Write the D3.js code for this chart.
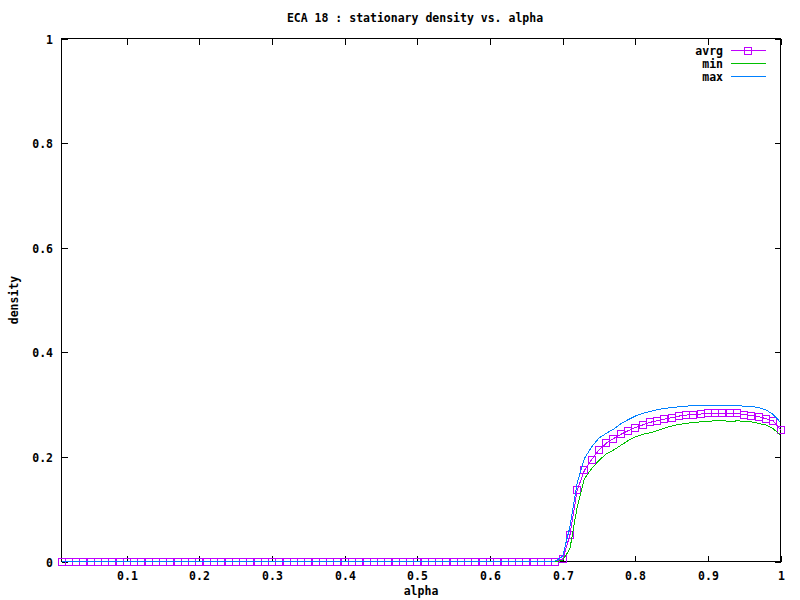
<!DOCTYPE html>
<html lang="en">
<head>
  <meta charset="UTF-8">
  <title>ECA 18 : stationary density vs. alpha</title>
  <script src="https://d3js.org/d3.v7.min.js"></script>
  <style>
    body { margin: 0; background: #fff; }
    svg text {
      font-family: "DejaVu Sans Mono", monospace;
      font-weight: bold;
      font-size: 11.5px;
      fill: #000;
    }
  </style>
</head>
<body>
  <div id="chart"></div>

  <script>
    // alpha values, 0.01 .. 1.00
    const alpha = [
      0.01,0.02,0.03,0.04,0.05,0.06,0.07,0.08,0.09,0.10,
      0.11,0.12,0.13,0.14,0.15,0.16,0.17,0.18,0.19,0.20,
      0.21,0.22,0.23,0.24,0.25,0.26,0.27,0.28,0.29,0.30,
      0.31,0.32,0.33,0.34,0.35,0.36,0.37,0.38,0.39,0.40,
      0.41,0.42,0.43,0.44,0.45,0.46,0.47,0.48,0.49,0.50,
      0.51,0.52,0.53,0.54,0.55,0.56,0.57,0.58,0.59,0.60,
      0.61,0.62,0.63,0.64,0.65,0.66,0.67,0.68,0.69,0.70,
      0.71,0.72,0.73,0.74,0.75,0.76,0.77,0.78,0.79,0.80,
      0.81,0.82,0.83,0.84,0.85,0.86,0.87,0.88,0.89,0.90,
      0.91,0.92,0.93,0.94,0.95,0.96,0.97,0.98,0.99,1.00
    ];

    const avrg = [
      0,0,0,0,0,0,0,0,0,0,
      0,0,0,0,0,0,0,0,0,0,
      0,0,0,0,0,0,0,0,0,0,
      0,0,0,0,0,0,0,0,0,0,
      0,0,0,0,0,0,0,0,0,0,
      0,0,0,0,0,0,0,0,0,0,
      0,0,0,0,0,0,0,0,0,0.004,
      0.050,0.136,0.174,0.195,0.213,0.226,0.235,0.243,0.250,0.256,
      0.261,0.266,0.269,0.272,0.275,0.278,0.280,0.281,0.282,0.283,
      0.283,0.283,0.283,0.283,0.281,0.279,0.277,0.273,0.269,0.252
    ];

    const minv = [
      0,0,0,0,0,0,0,0,0,0,
      0,0,0,0,0,0,0,0,0,0,
      0,0,0,0,0,0,0,0,0,0,
      0,0,0,0,0,0,0,0,0,0,
      0,0,0,0,0,0,0,0,0,0,
      0,0,0,0,0,0,0,0,0,0,
      0,0,0,0,0,0,0,0,0,0.002,
      0.024,0.104,0.158,0.178,0.193,0.206,0.213,0.222,0.231,0.238,
      0.243,0.246,0.250,0.255,0.259,0.262,0.264,0.266,0.267,0.268,
      0.269,0.270,0.267,0.269,0.268,0.267,0.264,0.261,0.254,0.241
    ];

    const maxv = [
      0,0,0,0,0,0,0,0,0,0,
      0,0,0,0,0,0,0,0,0,0,
      0,0,0,0,0,0,0,0,0,0,
      0,0,0,0,0,0,0,0,0,0,
      0,0,0,0,0,0,0,0,0,0,
      0,0,0,0,0,0,0,0,0,0,
      0,0,0,0,0,0,0,0,0.001,0.010,
      0.066,0.150,0.197,0.219,0.236,0.245,0.253,0.263,0.271,0.278,
      0.283,0.287,0.290,0.293,0.294,0.296,0.297,0.298,0.298,0.298,
      0.299,0.299,0.298,0.298,0.297,0.297,0.294,0.290,0.281,0.266
    ];

    const xTicks = [0.1, 0.2, 0.3, 0.4, 0.5, 0.6, 0.7, 0.8, 0.9, 1];
    const yTicks = [0, 0.2, 0.4, 0.6, 0.8, 1];

    const series = [
      { name: "avrg", values: avrg, color: "#c000ff", points: true },
      { name: "min", values: minv, color: "#00c000", points: false },
      { name: "max", values: maxv, color: "#0080ff", points: false }
    ];

    const width = 800, height = 600;
    const pLeft = 61.5, pRight = 780.5, pTop = 38.5, pBottom = 561.5;

    const x = d3.scaleLinear().domain([0.01, 1]).range([pLeft, pRight]);
    const y = d3.scaleLinear().domain([0, 1]).range([pBottom, pTop]);

    const svg = d3.select("#chart").append("svg")
      .attr("width", width).attr("height", height);

    const fmt = d => d === 0 || d === 1 ? String(d) : d.toFixed(1);
    const tick = 6;

    // ticks (inward, mirrored)
    const grid = svg.append("g").attr("stroke", "#000").attr("shape-rendering", "crispEdges");
    xTicks.forEach(t => {
      const px = Math.round(x(t)) + 0.5;
      grid.append("line").attr("x1", px).attr("x2", px).attr("y1", pBottom).attr("y2", pBottom - tick);
      grid.append("line").attr("x1", px).attr("x2", px).attr("y1", pTop).attr("y2", pTop + tick);
      svg.append("text").attr("x", px).attr("y", 580)
        .attr("text-anchor", "middle").text(fmt(t));
    });
    yTicks.forEach(t => {
      const py = Math.round(y(t)) + 0.5;
      grid.append("line").attr("x1", pLeft).attr("x2", pLeft + tick).attr("y1", py).attr("y2", py);
      grid.append("line").attr("x1", pRight).attr("x2", pRight - tick).attr("y1", py).attr("y2", py);
      svg.append("text").attr("x", 53).attr("y", py + 4)
        .attr("text-anchor", "end").text(fmt(t));
    });

    // border
    grid.append("rect").attr("x", pLeft).attr("y", pTop)
      .attr("width", pRight - pLeft).attr("height", pBottom - pTop)
      .attr("fill", "none");

    // series (gnuplot order: avrg, min, max)
    series.forEach(s => {
      const pts = alpha.map((a, i) => [a, s.values[i]]);
      svg.append("path")
        .datum(pts)
        .attr("fill", "none")
        .attr("stroke", s.color)
        .attr("stroke-width", 1)
        .attr("shape-rendering", "crispEdges")
        .attr("d", d3.line().x(d => x(d[0])).y(d => y(d[1])));
      if (s.points) {
        svg.append("g").selectAll("rect")
          .data(pts)
          .join("rect")
          .attr("x", d => Math.round(x(d[0])) - 3.5)
          .attr("y", d => Math.round(y(d[1])) - 3.5)
          .attr("width", 7).attr("height", 7)
          .attr("fill", "none")
          .attr("stroke", s.color)
          .attr("shape-rendering", "crispEdges");
      }
    });

    // legend
    series.forEach((s, i) => {
      const ly = 50.5 + i * 13;
      svg.append("text").attr("x", 723).attr("y", ly + 4)
        .attr("text-anchor", "end").text(s.name);
      svg.append("line").attr("x1", 731).attr("x2", 766)
        .attr("y1", ly).attr("y2", ly)
        .attr("stroke", s.color).attr("shape-rendering", "crispEdges");
      if (s.points) {
        svg.append("rect").attr("x", 748 - 3.5).attr("y", ly - 3.5)
          .attr("width", 7).attr("height", 7)
          .attr("fill", "none").attr("stroke", s.color)
          .attr("shape-rendering", "crispEdges");
      }
    });

    // titles
    svg.append("text").attr("x", 415).attr("y", 22)
      .attr("text-anchor", "middle").text("ECA 18 : stationary density vs. alpha");
    svg.append("text").attr("x", 421).attr("y", 595)
      .attr("text-anchor", "middle").text("alpha");
    svg.append("text")
      .attr("transform", "translate(18,300) rotate(-90)")
      .attr("text-anchor", "middle").text("density");
  </script>
</body>
</html>
